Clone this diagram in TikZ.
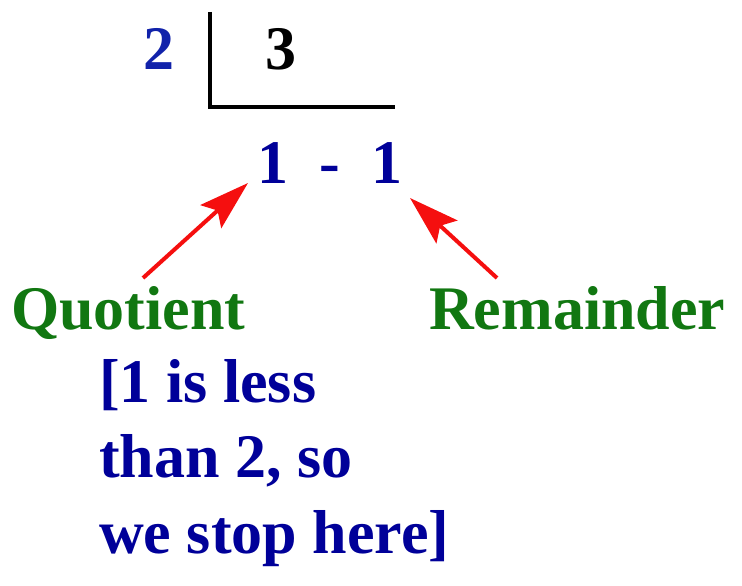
\documentclass[tikz,border=0pt]{standalone}
\usepackage{fontspec}
\setmainfont{Liberation Serif}
\usetikzlibrary{arrows.meta}
\definecolor{divblue}{RGB}{17,34,170}
\definecolor{darkblue}{RGB}{0,0,153}
\definecolor{labgreen}{RGB}{17,119,17}
\definecolor{arrred}{RGB}{245,15,15}
\tikzset{
  txt/.style={inner sep=0pt, font=\fontsize{62}{75}\selectfont\bfseries},
  digit/.style={txt, anchor=base},
  lab/.style={txt, anchor=base west, text=labgreen},
  note/.style={txt, anchor=base west, text=darkblue},
  pointer/.style={draw=arrred, line width=4pt, -{Stealth[length=50pt,width=31pt,inset=9pt]}, arrred},
  bar/.style={draw=black, line width=3.6pt}
}
\begin{document}
\begin{tikzpicture}[x=1pt,y=-1pt]
\useasboundingbox (0,0) rectangle (742,586);
% division bracket
\coordinate (vtop) at (210,12);
\coordinate (corner) at (210,107);
\coordinate (hend) at (395,107);
\draw[bar, line cap=butt] (vtop) -- (corner) -- (hend);
% numbers
\node[digit, text=divblue] (two) at (158.5,70) {2};
\node[digit, text=black] (three) at (281,70) {3};
\node[digit, text=darkblue] (q1) at (272.5,183) {1};
\node[digit, text=darkblue] (dash) at (330,183) {-};
\node[digit, text=darkblue] (r1) at (387,183) {1};
% labels
\node[lab] (quot) at (11,329) {Quotient};
\node[lab] (rem) at (429,329) {Remainder};
\node[note] (l1) at (99,402) {[1 is less};
\node[note] (l2) at (99,477) {than 2, so};
\node[note] (l3) at (99,553) {we stop here]};
% arrows
\coordinate (qtail) at (143,278);
\coordinate (qtip) at (248,183);
\coordinate (rtail) at (497,278);
\coordinate (rtip) at (410,198);
\draw[pointer] (qtail) -- (qtip);
\draw[pointer] (rtail) -- (rtip);
\end{tikzpicture}
\end{document}
